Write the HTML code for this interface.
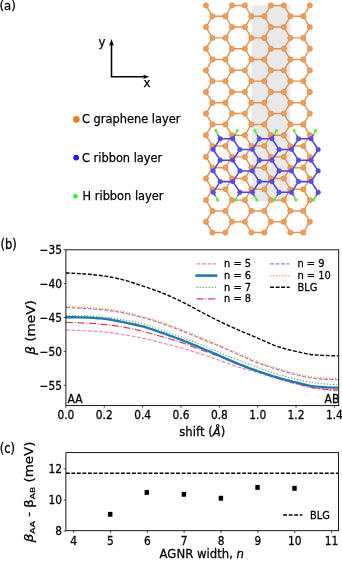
<!DOCTYPE html>
<html><head><meta charset="utf-8"><title>Figure</title>
<style>
html,body{margin:0;padding:0;background:#fff;}
body{width:342px;height:561px;overflow:hidden;}
svg{display:block;font-family:"DejaVu Sans", "Liberation Sans", sans-serif;fill:#000;}
svg text{fill:#000;stroke:#000;stroke-width:0.25px;}
</style></head><body>
<svg width="342" height="561" viewBox="0 0 342 561">
<rect x="0" y="0" width="342" height="561" fill="#ffffff"/>
<rect x="251.6" y="5.6" width="38.75" height="195.3" fill="#e9e9e9"/>
<g stroke="#E3954F" stroke-width="1.45" stroke-linecap="round">
<line x1="205.96" y1="5.44" x2="212.45" y2="16.25"/>
<line x1="231.92" y1="5.44" x2="244.90" y2="5.44"/>
<line x1="231.92" y1="5.44" x2="225.43" y2="16.25"/>
<line x1="244.90" y1="5.44" x2="251.39" y2="16.25"/>
<line x1="270.86" y1="5.44" x2="283.84" y2="5.44"/>
<line x1="270.86" y1="5.44" x2="264.37" y2="16.25"/>
<line x1="283.84" y1="5.44" x2="290.33" y2="16.25"/>
<line x1="309.80" y1="5.44" x2="303.31" y2="16.25"/>
<line x1="212.45" y1="16.25" x2="225.43" y2="16.25"/>
<line x1="212.45" y1="16.25" x2="205.96" y2="27.07"/>
<line x1="225.43" y1="16.25" x2="231.92" y2="27.07"/>
<line x1="251.39" y1="16.25" x2="264.37" y2="16.25"/>
<line x1="251.39" y1="16.25" x2="244.90" y2="27.07"/>
<line x1="264.37" y1="16.25" x2="270.86" y2="27.07"/>
<line x1="290.33" y1="16.25" x2="303.31" y2="16.25"/>
<line x1="290.33" y1="16.25" x2="283.84" y2="27.07"/>
<line x1="303.31" y1="16.25" x2="309.80" y2="27.07"/>
<line x1="205.96" y1="27.07" x2="212.45" y2="37.88"/>
<line x1="231.92" y1="27.07" x2="244.90" y2="27.07"/>
<line x1="231.92" y1="27.07" x2="225.43" y2="37.88"/>
<line x1="244.90" y1="27.07" x2="251.39" y2="37.88"/>
<line x1="270.86" y1="27.07" x2="283.84" y2="27.07"/>
<line x1="270.86" y1="27.07" x2="264.37" y2="37.88"/>
<line x1="283.84" y1="27.07" x2="290.33" y2="37.88"/>
<line x1="309.80" y1="27.07" x2="303.31" y2="37.88"/>
<line x1="212.45" y1="37.88" x2="225.43" y2="37.88"/>
<line x1="212.45" y1="37.88" x2="205.96" y2="48.70"/>
<line x1="225.43" y1="37.88" x2="231.92" y2="48.70"/>
<line x1="251.39" y1="37.88" x2="264.37" y2="37.88"/>
<line x1="251.39" y1="37.88" x2="244.90" y2="48.70"/>
<line x1="264.37" y1="37.88" x2="270.86" y2="48.70"/>
<line x1="290.33" y1="37.88" x2="303.31" y2="37.88"/>
<line x1="290.33" y1="37.88" x2="283.84" y2="48.70"/>
<line x1="303.31" y1="37.88" x2="309.80" y2="48.70"/>
<line x1="205.96" y1="48.70" x2="212.45" y2="59.51"/>
<line x1="231.92" y1="48.70" x2="244.90" y2="48.70"/>
<line x1="231.92" y1="48.70" x2="225.43" y2="59.51"/>
<line x1="244.90" y1="48.70" x2="251.39" y2="59.51"/>
<line x1="270.86" y1="48.70" x2="283.84" y2="48.70"/>
<line x1="270.86" y1="48.70" x2="264.37" y2="59.51"/>
<line x1="283.84" y1="48.70" x2="290.33" y2="59.51"/>
<line x1="309.80" y1="48.70" x2="303.31" y2="59.51"/>
<line x1="212.45" y1="59.51" x2="225.43" y2="59.51"/>
<line x1="212.45" y1="59.51" x2="205.96" y2="70.33"/>
<line x1="225.43" y1="59.51" x2="231.92" y2="70.33"/>
<line x1="251.39" y1="59.51" x2="264.37" y2="59.51"/>
<line x1="251.39" y1="59.51" x2="244.90" y2="70.33"/>
<line x1="264.37" y1="59.51" x2="270.86" y2="70.33"/>
<line x1="290.33" y1="59.51" x2="303.31" y2="59.51"/>
<line x1="290.33" y1="59.51" x2="283.84" y2="70.33"/>
<line x1="303.31" y1="59.51" x2="309.80" y2="70.33"/>
<line x1="205.96" y1="70.33" x2="212.45" y2="81.14"/>
<line x1="231.92" y1="70.33" x2="244.90" y2="70.33"/>
<line x1="231.92" y1="70.33" x2="225.43" y2="81.14"/>
<line x1="244.90" y1="70.33" x2="251.39" y2="81.14"/>
<line x1="270.86" y1="70.33" x2="283.84" y2="70.33"/>
<line x1="270.86" y1="70.33" x2="264.37" y2="81.14"/>
<line x1="283.84" y1="70.33" x2="290.33" y2="81.14"/>
<line x1="309.80" y1="70.33" x2="303.31" y2="81.14"/>
<line x1="212.45" y1="81.14" x2="225.43" y2="81.14"/>
<line x1="212.45" y1="81.14" x2="205.96" y2="91.96"/>
<line x1="225.43" y1="81.14" x2="231.92" y2="91.96"/>
<line x1="251.39" y1="81.14" x2="264.37" y2="81.14"/>
<line x1="251.39" y1="81.14" x2="244.90" y2="91.96"/>
<line x1="264.37" y1="81.14" x2="270.86" y2="91.96"/>
<line x1="290.33" y1="81.14" x2="303.31" y2="81.14"/>
<line x1="290.33" y1="81.14" x2="283.84" y2="91.96"/>
<line x1="303.31" y1="81.14" x2="309.80" y2="91.96"/>
<line x1="205.96" y1="91.96" x2="212.45" y2="102.77"/>
<line x1="231.92" y1="91.96" x2="244.90" y2="91.96"/>
<line x1="231.92" y1="91.96" x2="225.43" y2="102.77"/>
<line x1="244.90" y1="91.96" x2="251.39" y2="102.77"/>
<line x1="270.86" y1="91.96" x2="283.84" y2="91.96"/>
<line x1="270.86" y1="91.96" x2="264.37" y2="102.77"/>
<line x1="283.84" y1="91.96" x2="290.33" y2="102.77"/>
<line x1="309.80" y1="91.96" x2="303.31" y2="102.77"/>
<line x1="212.45" y1="102.77" x2="225.43" y2="102.77"/>
<line x1="212.45" y1="102.77" x2="205.96" y2="113.59"/>
<line x1="225.43" y1="102.77" x2="231.92" y2="113.59"/>
<line x1="251.39" y1="102.77" x2="264.37" y2="102.77"/>
<line x1="251.39" y1="102.77" x2="244.90" y2="113.59"/>
<line x1="264.37" y1="102.77" x2="270.86" y2="113.59"/>
<line x1="290.33" y1="102.77" x2="303.31" y2="102.77"/>
<line x1="290.33" y1="102.77" x2="283.84" y2="113.59"/>
<line x1="303.31" y1="102.77" x2="309.80" y2="113.59"/>
<line x1="205.96" y1="113.59" x2="212.45" y2="124.40"/>
<line x1="231.92" y1="113.59" x2="244.90" y2="113.59"/>
<line x1="231.92" y1="113.59" x2="225.43" y2="124.40"/>
<line x1="244.90" y1="113.59" x2="251.39" y2="124.40"/>
<line x1="270.86" y1="113.59" x2="283.84" y2="113.59"/>
<line x1="270.86" y1="113.59" x2="264.37" y2="124.40"/>
<line x1="283.84" y1="113.59" x2="290.33" y2="124.40"/>
<line x1="309.80" y1="113.59" x2="303.31" y2="124.40"/>
<line x1="212.45" y1="124.40" x2="225.43" y2="124.40"/>
<line x1="212.45" y1="124.40" x2="205.96" y2="135.22"/>
<line x1="225.43" y1="124.40" x2="231.92" y2="135.22"/>
<line x1="251.39" y1="124.40" x2="264.37" y2="124.40"/>
<line x1="251.39" y1="124.40" x2="244.90" y2="135.22"/>
<line x1="264.37" y1="124.40" x2="270.86" y2="135.22"/>
<line x1="290.33" y1="124.40" x2="303.31" y2="124.40"/>
<line x1="290.33" y1="124.40" x2="283.84" y2="135.22"/>
<line x1="303.31" y1="124.40" x2="309.80" y2="135.22"/>
<line x1="205.96" y1="135.22" x2="212.45" y2="146.03"/>
<line x1="231.92" y1="135.22" x2="244.90" y2="135.22"/>
<line x1="231.92" y1="135.22" x2="225.43" y2="146.03"/>
<line x1="244.90" y1="135.22" x2="251.39" y2="146.03"/>
<line x1="270.86" y1="135.22" x2="283.84" y2="135.22"/>
<line x1="270.86" y1="135.22" x2="264.37" y2="146.03"/>
<line x1="283.84" y1="135.22" x2="290.33" y2="146.03"/>
<line x1="309.80" y1="135.22" x2="303.31" y2="146.03"/>
<line x1="212.45" y1="146.03" x2="225.43" y2="146.03"/>
<line x1="212.45" y1="146.03" x2="205.96" y2="156.85"/>
<line x1="225.43" y1="146.03" x2="231.92" y2="156.85"/>
<line x1="251.39" y1="146.03" x2="264.37" y2="146.03"/>
<line x1="251.39" y1="146.03" x2="244.90" y2="156.85"/>
<line x1="264.37" y1="146.03" x2="270.86" y2="156.85"/>
<line x1="290.33" y1="146.03" x2="303.31" y2="146.03"/>
<line x1="290.33" y1="146.03" x2="283.84" y2="156.85"/>
<line x1="303.31" y1="146.03" x2="309.80" y2="156.85"/>
<line x1="205.96" y1="156.85" x2="212.45" y2="167.66"/>
<line x1="231.92" y1="156.85" x2="244.90" y2="156.85"/>
<line x1="231.92" y1="156.85" x2="225.43" y2="167.66"/>
<line x1="244.90" y1="156.85" x2="251.39" y2="167.66"/>
<line x1="270.86" y1="156.85" x2="283.84" y2="156.85"/>
<line x1="270.86" y1="156.85" x2="264.37" y2="167.66"/>
<line x1="283.84" y1="156.85" x2="290.33" y2="167.66"/>
<line x1="309.80" y1="156.85" x2="303.31" y2="167.66"/>
<line x1="212.45" y1="167.66" x2="225.43" y2="167.66"/>
<line x1="212.45" y1="167.66" x2="205.96" y2="178.48"/>
<line x1="225.43" y1="167.66" x2="231.92" y2="178.48"/>
<line x1="251.39" y1="167.66" x2="264.37" y2="167.66"/>
<line x1="251.39" y1="167.66" x2="244.90" y2="178.48"/>
<line x1="264.37" y1="167.66" x2="270.86" y2="178.48"/>
<line x1="290.33" y1="167.66" x2="303.31" y2="167.66"/>
<line x1="290.33" y1="167.66" x2="283.84" y2="178.48"/>
<line x1="303.31" y1="167.66" x2="309.80" y2="178.48"/>
<line x1="205.96" y1="178.48" x2="212.45" y2="189.29"/>
<line x1="231.92" y1="178.48" x2="244.90" y2="178.48"/>
<line x1="231.92" y1="178.48" x2="225.43" y2="189.29"/>
<line x1="244.90" y1="178.48" x2="251.39" y2="189.29"/>
<line x1="270.86" y1="178.48" x2="283.84" y2="178.48"/>
<line x1="270.86" y1="178.48" x2="264.37" y2="189.29"/>
<line x1="283.84" y1="178.48" x2="290.33" y2="189.29"/>
<line x1="309.80" y1="178.48" x2="303.31" y2="189.29"/>
<line x1="212.45" y1="189.29" x2="225.43" y2="189.29"/>
<line x1="212.45" y1="189.29" x2="205.96" y2="200.11"/>
<line x1="225.43" y1="189.29" x2="231.92" y2="200.11"/>
<line x1="251.39" y1="189.29" x2="264.37" y2="189.29"/>
<line x1="251.39" y1="189.29" x2="244.90" y2="200.11"/>
<line x1="264.37" y1="189.29" x2="270.86" y2="200.11"/>
<line x1="290.33" y1="189.29" x2="303.31" y2="189.29"/>
<line x1="290.33" y1="189.29" x2="283.84" y2="200.11"/>
<line x1="303.31" y1="189.29" x2="309.80" y2="200.11"/>
<line x1="205.96" y1="200.11" x2="212.45" y2="210.92"/>
<line x1="231.92" y1="200.11" x2="244.90" y2="200.11"/>
<line x1="231.92" y1="200.11" x2="225.43" y2="210.92"/>
<line x1="244.90" y1="200.11" x2="251.39" y2="210.92"/>
<line x1="270.86" y1="200.11" x2="283.84" y2="200.11"/>
<line x1="270.86" y1="200.11" x2="264.37" y2="210.92"/>
<line x1="283.84" y1="200.11" x2="290.33" y2="210.92"/>
<line x1="309.80" y1="200.11" x2="303.31" y2="210.92"/>
<line x1="212.45" y1="210.92" x2="225.43" y2="210.92"/>
<line x1="212.45" y1="210.92" x2="205.96" y2="221.74"/>
<line x1="225.43" y1="210.92" x2="231.92" y2="221.74"/>
<line x1="251.39" y1="210.92" x2="264.37" y2="210.92"/>
<line x1="251.39" y1="210.92" x2="244.90" y2="221.74"/>
<line x1="264.37" y1="210.92" x2="270.86" y2="221.74"/>
<line x1="290.33" y1="210.92" x2="303.31" y2="210.92"/>
<line x1="290.33" y1="210.92" x2="283.84" y2="221.74"/>
<line x1="303.31" y1="210.92" x2="309.80" y2="221.74"/>
<line x1="205.96" y1="221.74" x2="212.45" y2="232.55"/>
<line x1="231.92" y1="221.74" x2="244.90" y2="221.74"/>
<line x1="231.92" y1="221.74" x2="225.43" y2="232.55"/>
<line x1="244.90" y1="221.74" x2="251.39" y2="232.55"/>
<line x1="270.86" y1="221.74" x2="283.84" y2="221.74"/>
<line x1="270.86" y1="221.74" x2="264.37" y2="232.55"/>
<line x1="283.84" y1="221.74" x2="290.33" y2="232.55"/>
<line x1="309.80" y1="221.74" x2="303.31" y2="232.55"/>
<line x1="212.45" y1="232.55" x2="225.43" y2="232.55"/>
<line x1="251.39" y1="232.55" x2="264.37" y2="232.55"/>
<line x1="290.33" y1="232.55" x2="303.31" y2="232.55"/>
</g>
<g fill="#EE9F59" stroke="#CF8245" stroke-width="0.55">
<circle cx="205.96" cy="5.44" r="2.65"/>
<circle cx="231.92" cy="5.44" r="2.65"/>
<circle cx="244.90" cy="5.44" r="2.65"/>
<circle cx="270.86" cy="5.44" r="2.65"/>
<circle cx="283.84" cy="5.44" r="2.65"/>
<circle cx="309.80" cy="5.44" r="2.65"/>
<circle cx="212.45" cy="16.25" r="2.65"/>
<circle cx="225.43" cy="16.25" r="2.65"/>
<circle cx="251.39" cy="16.25" r="2.65"/>
<circle cx="264.37" cy="16.25" r="2.65"/>
<circle cx="290.33" cy="16.25" r="2.65"/>
<circle cx="303.31" cy="16.25" r="2.65"/>
<circle cx="205.96" cy="27.07" r="2.65"/>
<circle cx="231.92" cy="27.07" r="2.65"/>
<circle cx="244.90" cy="27.07" r="2.65"/>
<circle cx="270.86" cy="27.07" r="2.65"/>
<circle cx="283.84" cy="27.07" r="2.65"/>
<circle cx="309.80" cy="27.07" r="2.65"/>
<circle cx="212.45" cy="37.88" r="2.65"/>
<circle cx="225.43" cy="37.88" r="2.65"/>
<circle cx="251.39" cy="37.88" r="2.65"/>
<circle cx="264.37" cy="37.88" r="2.65"/>
<circle cx="290.33" cy="37.88" r="2.65"/>
<circle cx="303.31" cy="37.88" r="2.65"/>
<circle cx="205.96" cy="48.70" r="2.65"/>
<circle cx="231.92" cy="48.70" r="2.65"/>
<circle cx="244.90" cy="48.70" r="2.65"/>
<circle cx="270.86" cy="48.70" r="2.65"/>
<circle cx="283.84" cy="48.70" r="2.65"/>
<circle cx="309.80" cy="48.70" r="2.65"/>
<circle cx="212.45" cy="59.51" r="2.65"/>
<circle cx="225.43" cy="59.51" r="2.65"/>
<circle cx="251.39" cy="59.51" r="2.65"/>
<circle cx="264.37" cy="59.51" r="2.65"/>
<circle cx="290.33" cy="59.51" r="2.65"/>
<circle cx="303.31" cy="59.51" r="2.65"/>
<circle cx="205.96" cy="70.33" r="2.65"/>
<circle cx="231.92" cy="70.33" r="2.65"/>
<circle cx="244.90" cy="70.33" r="2.65"/>
<circle cx="270.86" cy="70.33" r="2.65"/>
<circle cx="283.84" cy="70.33" r="2.65"/>
<circle cx="309.80" cy="70.33" r="2.65"/>
<circle cx="212.45" cy="81.14" r="2.65"/>
<circle cx="225.43" cy="81.14" r="2.65"/>
<circle cx="251.39" cy="81.14" r="2.65"/>
<circle cx="264.37" cy="81.14" r="2.65"/>
<circle cx="290.33" cy="81.14" r="2.65"/>
<circle cx="303.31" cy="81.14" r="2.65"/>
<circle cx="205.96" cy="91.96" r="2.65"/>
<circle cx="231.92" cy="91.96" r="2.65"/>
<circle cx="244.90" cy="91.96" r="2.65"/>
<circle cx="270.86" cy="91.96" r="2.65"/>
<circle cx="283.84" cy="91.96" r="2.65"/>
<circle cx="309.80" cy="91.96" r="2.65"/>
<circle cx="212.45" cy="102.77" r="2.65"/>
<circle cx="225.43" cy="102.77" r="2.65"/>
<circle cx="251.39" cy="102.77" r="2.65"/>
<circle cx="264.37" cy="102.77" r="2.65"/>
<circle cx="290.33" cy="102.77" r="2.65"/>
<circle cx="303.31" cy="102.77" r="2.65"/>
<circle cx="205.96" cy="113.59" r="2.65"/>
<circle cx="231.92" cy="113.59" r="2.65"/>
<circle cx="244.90" cy="113.59" r="2.65"/>
<circle cx="270.86" cy="113.59" r="2.65"/>
<circle cx="283.84" cy="113.59" r="2.65"/>
<circle cx="309.80" cy="113.59" r="2.65"/>
<circle cx="212.45" cy="124.40" r="2.65"/>
<circle cx="225.43" cy="124.40" r="2.65"/>
<circle cx="251.39" cy="124.40" r="2.65"/>
<circle cx="264.37" cy="124.40" r="2.65"/>
<circle cx="290.33" cy="124.40" r="2.65"/>
<circle cx="303.31" cy="124.40" r="2.65"/>
<circle cx="205.96" cy="135.22" r="2.65"/>
<circle cx="231.92" cy="135.22" r="2.65"/>
<circle cx="244.90" cy="135.22" r="2.65"/>
<circle cx="270.86" cy="135.22" r="2.65"/>
<circle cx="283.84" cy="135.22" r="2.65"/>
<circle cx="309.80" cy="135.22" r="2.65"/>
<circle cx="212.45" cy="146.03" r="2.65"/>
<circle cx="225.43" cy="146.03" r="2.65"/>
<circle cx="251.39" cy="146.03" r="2.65"/>
<circle cx="264.37" cy="146.03" r="2.65"/>
<circle cx="290.33" cy="146.03" r="2.65"/>
<circle cx="303.31" cy="146.03" r="2.65"/>
<circle cx="205.96" cy="156.85" r="2.65"/>
<circle cx="231.92" cy="156.85" r="2.65"/>
<circle cx="244.90" cy="156.85" r="2.65"/>
<circle cx="270.86" cy="156.85" r="2.65"/>
<circle cx="283.84" cy="156.85" r="2.65"/>
<circle cx="309.80" cy="156.85" r="2.65"/>
<circle cx="212.45" cy="167.66" r="2.65"/>
<circle cx="225.43" cy="167.66" r="2.65"/>
<circle cx="251.39" cy="167.66" r="2.65"/>
<circle cx="264.37" cy="167.66" r="2.65"/>
<circle cx="290.33" cy="167.66" r="2.65"/>
<circle cx="303.31" cy="167.66" r="2.65"/>
<circle cx="205.96" cy="178.48" r="2.65"/>
<circle cx="231.92" cy="178.48" r="2.65"/>
<circle cx="244.90" cy="178.48" r="2.65"/>
<circle cx="270.86" cy="178.48" r="2.65"/>
<circle cx="283.84" cy="178.48" r="2.65"/>
<circle cx="309.80" cy="178.48" r="2.65"/>
<circle cx="212.45" cy="189.29" r="2.65"/>
<circle cx="225.43" cy="189.29" r="2.65"/>
<circle cx="251.39" cy="189.29" r="2.65"/>
<circle cx="264.37" cy="189.29" r="2.65"/>
<circle cx="290.33" cy="189.29" r="2.65"/>
<circle cx="303.31" cy="189.29" r="2.65"/>
<circle cx="205.96" cy="200.11" r="2.65"/>
<circle cx="231.92" cy="200.11" r="2.65"/>
<circle cx="244.90" cy="200.11" r="2.65"/>
<circle cx="270.86" cy="200.11" r="2.65"/>
<circle cx="283.84" cy="200.11" r="2.65"/>
<circle cx="309.80" cy="200.11" r="2.65"/>
<circle cx="212.45" cy="210.92" r="2.65"/>
<circle cx="225.43" cy="210.92" r="2.65"/>
<circle cx="251.39" cy="210.92" r="2.65"/>
<circle cx="264.37" cy="210.92" r="2.65"/>
<circle cx="290.33" cy="210.92" r="2.65"/>
<circle cx="303.31" cy="210.92" r="2.65"/>
<circle cx="205.96" cy="221.74" r="2.65"/>
<circle cx="231.92" cy="221.74" r="2.65"/>
<circle cx="244.90" cy="221.74" r="2.65"/>
<circle cx="270.86" cy="221.74" r="2.65"/>
<circle cx="283.84" cy="221.74" r="2.65"/>
<circle cx="309.80" cy="221.74" r="2.65"/>
<circle cx="212.45" cy="232.55" r="2.65"/>
<circle cx="225.43" cy="232.55" r="2.65"/>
<circle cx="251.39" cy="232.55" r="2.65"/>
<circle cx="264.37" cy="232.55" r="2.65"/>
<circle cx="290.33" cy="232.55" r="2.65"/>
<circle cx="303.31" cy="232.55" r="2.65"/>
</g>
<g stroke="#5146D9" stroke-width="1.55" stroke-linecap="round">
<line x1="220.20" y1="138.80" x2="232.80" y2="138.80"/>
<line x1="220.20" y1="138.80" x2="213.20" y2="149.50"/>
<line x1="232.80" y1="138.80" x2="239.90" y2="149.50"/>
<line x1="259.35" y1="138.80" x2="271.95" y2="138.80"/>
<line x1="259.35" y1="138.80" x2="252.35" y2="149.50"/>
<line x1="271.95" y1="138.80" x2="279.05" y2="149.50"/>
<line x1="298.50" y1="138.80" x2="311.10" y2="138.80"/>
<line x1="298.50" y1="138.80" x2="291.50" y2="149.50"/>
<line x1="311.10" y1="138.80" x2="318.20" y2="149.50"/>
<line x1="213.20" y1="149.50" x2="220.20" y2="160.20"/>
<line x1="239.90" y1="149.50" x2="252.35" y2="149.50"/>
<line x1="239.90" y1="149.50" x2="232.80" y2="160.20"/>
<line x1="252.35" y1="149.50" x2="259.35" y2="160.20"/>
<line x1="279.05" y1="149.50" x2="291.50" y2="149.50"/>
<line x1="279.05" y1="149.50" x2="271.95" y2="160.20"/>
<line x1="291.50" y1="149.50" x2="298.50" y2="160.20"/>
<line x1="318.20" y1="149.50" x2="311.10" y2="160.20"/>
<line x1="220.20" y1="160.20" x2="232.80" y2="160.20"/>
<line x1="220.20" y1="160.20" x2="213.20" y2="170.90"/>
<line x1="232.80" y1="160.20" x2="239.90" y2="170.90"/>
<line x1="259.35" y1="160.20" x2="271.95" y2="160.20"/>
<line x1="259.35" y1="160.20" x2="252.35" y2="170.90"/>
<line x1="271.95" y1="160.20" x2="279.05" y2="170.90"/>
<line x1="298.50" y1="160.20" x2="311.10" y2="160.20"/>
<line x1="298.50" y1="160.20" x2="291.50" y2="170.90"/>
<line x1="311.10" y1="160.20" x2="318.20" y2="170.90"/>
<line x1="213.20" y1="170.90" x2="220.20" y2="181.60"/>
<line x1="239.90" y1="170.90" x2="252.35" y2="170.90"/>
<line x1="239.90" y1="170.90" x2="232.80" y2="181.60"/>
<line x1="252.35" y1="170.90" x2="259.35" y2="181.60"/>
<line x1="279.05" y1="170.90" x2="291.50" y2="170.90"/>
<line x1="279.05" y1="170.90" x2="271.95" y2="181.60"/>
<line x1="291.50" y1="170.90" x2="298.50" y2="181.60"/>
<line x1="318.20" y1="170.90" x2="311.10" y2="181.60"/>
<line x1="220.20" y1="181.60" x2="232.80" y2="181.60"/>
<line x1="220.20" y1="181.60" x2="213.20" y2="192.30"/>
<line x1="232.80" y1="181.60" x2="239.90" y2="192.30"/>
<line x1="259.35" y1="181.60" x2="271.95" y2="181.60"/>
<line x1="259.35" y1="181.60" x2="252.35" y2="192.30"/>
<line x1="271.95" y1="181.60" x2="279.05" y2="192.30"/>
<line x1="298.50" y1="181.60" x2="311.10" y2="181.60"/>
<line x1="298.50" y1="181.60" x2="291.50" y2="192.30"/>
<line x1="311.10" y1="181.60" x2="318.20" y2="192.30"/>
<line x1="239.90" y1="192.30" x2="252.35" y2="192.30"/>
<line x1="279.05" y1="192.30" x2="291.50" y2="192.30"/>
</g>
<line x1="220.20" y1="138.80" x2="217.95" y2="134.65" stroke="#5146D9" stroke-width="1.55"/>
<line x1="217.95" y1="134.65" x2="215.70" y2="130.50" stroke="#5CE645" stroke-width="1.55"/>
<line x1="232.80" y1="138.80" x2="235.05" y2="134.65" stroke="#5146D9" stroke-width="1.55"/>
<line x1="235.05" y1="134.65" x2="237.30" y2="130.50" stroke="#5CE645" stroke-width="1.55"/>
<line x1="213.20" y1="192.30" x2="215.45" y2="196.15" stroke="#5146D9" stroke-width="1.55"/>
<line x1="215.45" y1="196.15" x2="217.70" y2="200.00" stroke="#5CE645" stroke-width="1.55"/>
<line x1="239.90" y1="192.30" x2="237.55" y2="196.15" stroke="#5146D9" stroke-width="1.55"/>
<line x1="237.55" y1="196.15" x2="235.20" y2="200.00" stroke="#5CE645" stroke-width="1.55"/>
<line x1="259.35" y1="138.80" x2="257.10" y2="134.65" stroke="#5146D9" stroke-width="1.55"/>
<line x1="257.10" y1="134.65" x2="254.85" y2="130.50" stroke="#5CE645" stroke-width="1.55"/>
<line x1="271.95" y1="138.80" x2="274.20" y2="134.65" stroke="#5146D9" stroke-width="1.55"/>
<line x1="274.20" y1="134.65" x2="276.45" y2="130.50" stroke="#5CE645" stroke-width="1.55"/>
<line x1="252.35" y1="192.30" x2="254.60" y2="196.15" stroke="#5146D9" stroke-width="1.55"/>
<line x1="254.60" y1="196.15" x2="256.85" y2="200.00" stroke="#5CE645" stroke-width="1.55"/>
<line x1="279.05" y1="192.30" x2="276.70" y2="196.15" stroke="#5146D9" stroke-width="1.55"/>
<line x1="276.70" y1="196.15" x2="274.35" y2="200.00" stroke="#5CE645" stroke-width="1.55"/>
<line x1="298.50" y1="138.80" x2="296.25" y2="134.65" stroke="#5146D9" stroke-width="1.55"/>
<line x1="296.25" y1="134.65" x2="294.00" y2="130.50" stroke="#5CE645" stroke-width="1.55"/>
<line x1="311.10" y1="138.80" x2="313.35" y2="134.65" stroke="#5146D9" stroke-width="1.55"/>
<line x1="313.35" y1="134.65" x2="315.60" y2="130.50" stroke="#5CE645" stroke-width="1.55"/>
<line x1="291.50" y1="192.30" x2="293.75" y2="196.15" stroke="#5146D9" stroke-width="1.55"/>
<line x1="293.75" y1="196.15" x2="296.00" y2="200.00" stroke="#5CE645" stroke-width="1.55"/>
<line x1="318.20" y1="192.30" x2="315.85" y2="196.15" stroke="#5146D9" stroke-width="1.55"/>
<line x1="315.85" y1="196.15" x2="313.50" y2="200.00" stroke="#5CE645" stroke-width="1.55"/>
<g fill="#584DE6" stroke="#4A40C8" stroke-width="0.4">
<circle cx="220.20" cy="138.80" r="2.35"/>
<circle cx="232.80" cy="138.80" r="2.35"/>
<circle cx="259.35" cy="138.80" r="2.35"/>
<circle cx="271.95" cy="138.80" r="2.35"/>
<circle cx="298.50" cy="138.80" r="2.35"/>
<circle cx="311.10" cy="138.80" r="2.35"/>
<circle cx="213.20" cy="149.50" r="2.35"/>
<circle cx="239.90" cy="149.50" r="2.35"/>
<circle cx="252.35" cy="149.50" r="2.35"/>
<circle cx="279.05" cy="149.50" r="2.35"/>
<circle cx="291.50" cy="149.50" r="2.35"/>
<circle cx="318.20" cy="149.50" r="2.35"/>
<circle cx="220.20" cy="160.20" r="2.35"/>
<circle cx="232.80" cy="160.20" r="2.35"/>
<circle cx="259.35" cy="160.20" r="2.35"/>
<circle cx="271.95" cy="160.20" r="2.35"/>
<circle cx="298.50" cy="160.20" r="2.35"/>
<circle cx="311.10" cy="160.20" r="2.35"/>
<circle cx="213.20" cy="170.90" r="2.35"/>
<circle cx="239.90" cy="170.90" r="2.35"/>
<circle cx="252.35" cy="170.90" r="2.35"/>
<circle cx="279.05" cy="170.90" r="2.35"/>
<circle cx="291.50" cy="170.90" r="2.35"/>
<circle cx="318.20" cy="170.90" r="2.35"/>
<circle cx="220.20" cy="181.60" r="2.35"/>
<circle cx="232.80" cy="181.60" r="2.35"/>
<circle cx="259.35" cy="181.60" r="2.35"/>
<circle cx="271.95" cy="181.60" r="2.35"/>
<circle cx="298.50" cy="181.60" r="2.35"/>
<circle cx="311.10" cy="181.60" r="2.35"/>
<circle cx="213.20" cy="192.30" r="2.35"/>
<circle cx="239.90" cy="192.30" r="2.35"/>
<circle cx="252.35" cy="192.30" r="2.35"/>
<circle cx="279.05" cy="192.30" r="2.35"/>
<circle cx="291.50" cy="192.30" r="2.35"/>
<circle cx="318.20" cy="192.30" r="2.35"/>
</g>
<g fill="#5CE645">
<circle cx="215.70" cy="130.50" r="1.55"/>
<circle cx="237.30" cy="130.50" r="1.55"/>
<circle cx="217.70" cy="200.00" r="1.55"/>
<circle cx="235.20" cy="200.00" r="1.55"/>
<circle cx="254.85" cy="130.50" r="1.55"/>
<circle cx="276.45" cy="130.50" r="1.55"/>
<circle cx="256.85" cy="200.00" r="1.55"/>
<circle cx="274.35" cy="200.00" r="1.55"/>
<circle cx="294.00" cy="130.50" r="1.55"/>
<circle cx="315.60" cy="130.50" r="1.55"/>
<circle cx="296.00" cy="200.00" r="1.55"/>
<circle cx="313.50" cy="200.00" r="1.55"/>
</g>
<text transform="translate(-0.50 10.45) scale(1 1.03)" font-size="11.7">(a)</text>
<path d="M111.5 43 V76.8 H145.5" fill="none" stroke="#000" stroke-width="1.55"/>
<path d="M111.5 39 L113.9 45.9 L111.5 44.6 L109.1 45.9 Z" fill="#000"/>
<path d="M149.2 76.8 L143.2 78.9 L144.4 76.8 L143.2 74.7 Z" fill="#000"/>
<text x="98.6" y="45.6" font-size="11.8">y</text>
<text x="143.4" y="86.5" font-size="12">x</text>
<circle cx="76.4" cy="119.4" r="3.3" fill="#E2821F"/>
<text x="82" y="122.9" font-size="11.4">C graphene layer</text>
<circle cx="76.2" cy="157.6" r="2.9" fill="#2418EB"/>
<text x="82" y="161.5" font-size="11.4">C ribbon layer</text>
<circle cx="75.5" cy="196.3" r="2.3" fill="#2CF01A"/>
<text x="82.6" y="200.2" font-size="11.4">H ribbon layer</text>
<text transform="translate(0.50 249.10) scale(1 1.2)" font-size="11.5">(b)</text>
<clipPath id="cb"><rect x="65.9" y="249.8" width="272.79999999999995" height="155.8"/></clipPath>
<g clip-path="url(#cb)">
<polyline points="65.90,330.10 68.19,330.16 70.48,330.22 72.77,330.30 75.05,330.38 77.34,330.47 79.63,330.56 81.92,330.66 84.21,330.76 86.50,330.87 88.79,330.98 91.08,331.10 93.36,331.23 95.65,331.36 97.94,331.51 100.23,331.68 102.52,331.85 104.81,332.05 107.10,332.28 109.39,332.55 111.67,332.85 113.96,333.17 116.25,333.52 118.54,333.88 120.83,334.24 123.12,334.60 125.41,334.96 127.70,335.33 129.98,335.72 132.27,336.11 134.56,336.52 136.85,336.95 139.14,337.39 141.43,337.85 143.72,338.33 146.00,338.85 148.29,339.40 150.58,339.98 152.87,340.57 155.16,341.17 157.45,341.77 159.74,342.37 162.03,342.96 164.31,343.53 166.60,344.10 168.89,344.66 171.18,345.23 173.47,345.80 175.76,346.39 178.05,347.00 180.34,347.62 182.62,348.27 184.91,348.95 187.20,349.64 189.49,350.36 191.78,351.09 194.07,351.82 196.36,352.57 198.64,353.31 200.93,354.05 203.22,354.79 205.51,355.54 207.80,356.29 210.09,357.05 212.38,357.82 214.67,358.59 216.95,359.38 219.24,360.17 221.53,360.98 223.82,361.82 226.11,362.69 228.40,363.56 230.69,364.42 232.98,365.27 235.26,366.08 237.55,366.84 239.84,367.55 242.13,368.22 244.42,368.85 246.71,369.45 249.00,370.05 251.29,370.64 253.57,371.25 255.86,371.87 258.15,372.53 260.44,373.23 262.73,373.95 265.02,374.69 267.31,375.44 269.59,376.19 271.88,376.93 274.17,377.66 276.46,378.37 278.75,379.06 281.04,379.76 283.33,380.44 285.62,381.12 287.90,381.79 290.19,382.44 292.48,383.07 294.77,383.67 297.06,384.25 299.35,384.82 301.64,385.39 303.93,385.94 306.21,386.47 308.50,386.98 310.79,387.45 313.08,387.87 315.37,388.25 317.66,388.59 319.95,388.93 322.24,389.25 324.52,389.56 326.81,389.84 329.10,390.11 331.39,390.35 333.68,390.56 335.97,390.75 338.26,390.90" fill="none" stroke="#e687c9" stroke-width="1.2" stroke-dasharray="3.85 1.66"/>
<polyline points="65.90,315.50 68.19,315.51 70.48,315.53 72.77,315.56 75.05,315.60 77.34,315.64 79.63,315.70 81.92,315.76 84.21,315.82 86.50,315.90 88.79,316.01 91.08,316.14 93.36,316.31 95.65,316.49 97.94,316.70 100.23,316.91 102.52,317.13 104.81,317.35 107.10,317.60 109.39,317.86 111.67,318.15 113.96,318.46 116.25,318.79 118.54,319.13 120.83,319.48 123.12,319.85 125.41,320.22 127.70,320.61 129.98,321.01 132.27,321.44 134.56,321.89 136.85,322.36 139.14,322.87 141.43,323.41 143.72,323.99 146.00,324.65 148.29,325.38 150.58,326.17 152.87,327.00 155.16,327.85 157.45,328.69 159.74,329.53 162.03,330.33 164.31,331.10 166.60,331.87 168.89,332.63 171.18,333.39 173.47,334.16 175.76,334.94 178.05,335.74 180.34,336.56 182.62,337.41 184.91,338.29 187.20,339.18 189.49,340.10 191.78,341.02 194.07,341.96 196.36,342.90 198.64,343.83 200.93,344.77 203.22,345.70 205.51,346.65 207.80,347.60 210.09,348.55 212.38,349.50 214.67,350.46 216.95,351.41 219.24,352.36 221.53,353.31 223.82,354.27 226.11,355.23 228.40,356.19 230.69,357.14 232.98,358.09 235.26,359.02 237.55,359.92 239.84,360.81 242.13,361.67 244.42,362.52 246.71,363.36 249.00,364.18 251.29,365.01 253.57,365.82 255.86,366.64 258.15,367.46 260.44,368.30 262.73,369.15 265.02,370.00 267.31,370.85 269.59,371.68 271.88,372.48 274.17,373.25 276.46,373.97 278.75,374.65 281.04,375.31 283.33,375.94 285.62,376.55 287.90,377.14 290.19,377.71 292.48,378.27 294.77,378.80 297.06,379.33 299.35,379.86 301.64,380.39 303.93,380.92 306.21,381.42 308.50,381.89 310.79,382.31 313.08,382.68 315.37,382.98 317.66,383.24 319.95,383.50 322.24,383.74 324.52,383.97 326.81,384.18 329.10,384.37 331.39,384.53 333.68,384.66 335.97,384.75 338.26,384.80" fill="none" stroke="#45ab45" stroke-width="1.2" stroke-dasharray="1.1 1.92"/>
<polyline points="65.90,322.50 68.19,322.51 70.48,322.54 72.77,322.58 75.05,322.64 77.34,322.71 79.63,322.79 81.92,322.88 84.21,322.97 86.50,323.06 88.79,323.18 91.08,323.33 93.36,323.50 95.65,323.69 97.94,323.89 100.23,324.11 102.52,324.33 104.81,324.55 107.10,324.79 109.39,325.05 111.67,325.33 113.96,325.63 116.25,325.94 118.54,326.28 120.83,326.63 123.12,327.00 125.41,327.39 127.70,327.83 129.98,328.31 132.27,328.81 134.56,329.34 136.85,329.89 139.14,330.44 141.43,331.01 143.72,331.57 146.00,332.16 148.29,332.77 150.58,333.40 152.87,334.04 155.16,334.69 157.45,335.35 159.74,336.01 162.03,336.66 164.31,337.32 166.60,337.97 168.89,338.62 171.18,339.28 173.47,339.95 175.76,340.64 178.05,341.35 180.34,342.09 182.62,342.86 184.91,343.68 187.20,344.54 189.49,345.42 191.78,346.32 194.07,347.22 196.36,348.11 198.64,348.99 200.93,349.83 203.22,350.65 205.51,351.46 207.80,352.25 210.09,353.05 212.38,353.85 214.67,354.66 216.95,355.50 219.24,356.36 221.53,357.27 223.82,358.21 226.11,359.18 228.40,360.17 230.69,361.17 232.98,362.15 235.26,363.12 237.55,364.06 239.84,364.97 242.13,365.86 244.42,366.74 246.71,367.60 249.00,368.45 251.29,369.29 253.57,370.13 255.86,370.95 258.15,371.76 260.44,372.57 262.73,373.37 265.02,374.16 267.31,374.95 269.59,375.72 271.88,376.47 274.17,377.21 276.46,377.92 278.75,378.61 281.04,379.29 283.33,379.95 285.62,380.60 287.90,381.23 290.19,381.85 292.48,382.46 294.77,383.07 297.06,383.66 299.35,384.29 301.64,384.93 303.93,385.57 306.21,386.19 308.50,386.76 310.79,387.28 313.08,387.71 315.37,388.04 317.66,388.32 319.95,388.60 322.24,388.86 324.52,389.10 326.81,389.32 329.10,389.52 331.39,389.68 333.68,389.80 335.97,389.87 338.26,389.90" fill="none" stroke="#db4142" stroke-width="1.2" stroke-dasharray="7.0 1.75 1.05 1.75"/>
<polyline points="65.90,307.50 68.19,307.61 70.48,307.72 72.77,307.84 75.05,307.97 77.34,308.09 79.63,308.22 81.92,308.36 84.21,308.50 86.50,308.64 88.79,308.77 91.08,308.91 93.36,309.05 95.65,309.20 97.94,309.37 100.23,309.54 102.52,309.74 104.81,309.95 107.10,310.21 109.39,310.51 111.67,310.85 113.96,311.22 116.25,311.61 118.54,312.02 120.83,312.45 123.12,312.89 125.41,313.34 127.70,313.83 129.98,314.35 132.27,314.90 134.56,315.48 136.85,316.06 139.14,316.67 141.43,317.28 143.72,317.90 146.00,318.53 148.29,319.18 150.58,319.85 152.87,320.54 155.16,321.25 157.45,321.97 159.74,322.72 162.03,323.48 164.31,324.26 166.60,325.08 168.89,325.93 171.18,326.79 173.47,327.67 175.76,328.56 178.05,329.46 180.34,330.35 182.62,331.24 184.91,332.14 187.20,333.05 189.49,333.96 191.78,334.89 194.07,335.81 196.36,336.75 198.64,337.68 200.93,338.62 203.22,339.56 205.51,340.50 207.80,341.45 210.09,342.40 212.38,343.36 214.67,344.32 216.95,345.29 219.24,346.26 221.53,347.24 223.82,348.23 226.11,349.23 228.40,350.23 230.69,351.24 232.98,352.24 235.26,353.24 237.55,354.23 239.84,355.22 242.13,356.22 244.42,357.23 246.71,358.24 249.00,359.24 251.29,360.22 253.57,361.17 255.86,362.09 258.15,362.97 260.44,363.82 262.73,364.64 265.02,365.44 267.31,366.22 269.59,366.98 271.88,367.73 274.17,368.46 276.46,369.17 278.75,369.87 281.04,370.57 283.33,371.26 285.62,371.94 287.90,372.59 290.19,373.22 292.48,373.82 294.77,374.40 297.06,374.93 299.35,375.48 301.64,376.02 303.93,376.55 306.21,377.05 308.50,377.51 310.79,377.91 313.08,378.24 315.37,378.48 317.66,378.68 319.95,378.87 322.24,379.05 324.52,379.22 326.81,379.37 329.10,379.50 331.39,379.60 333.68,379.68 335.97,379.73 338.26,379.75" fill="none" stroke="#a179c5" stroke-width="1.2" stroke-dasharray="3.85 1.66"/>
<polyline points="65.90,306.30 68.19,306.41 70.48,306.52 72.77,306.64 75.05,306.77 77.34,306.89 79.63,307.02 81.92,307.16 84.21,307.30 86.50,307.44 88.79,307.57 91.08,307.71 93.36,307.85 95.65,308.00 97.94,308.17 100.23,308.34 102.52,308.54 104.81,308.75 107.10,309.01 109.39,309.31 111.67,309.65 113.96,310.02 116.25,310.41 118.54,310.82 120.83,311.25 123.12,311.69 125.41,312.14 127.70,312.63 129.98,313.15 132.27,313.70 134.56,314.28 136.85,314.86 139.14,315.47 141.43,316.08 143.72,316.70 146.00,317.33 148.29,317.98 150.58,318.65 152.87,319.34 155.16,320.05 157.45,320.77 159.74,321.52 162.03,322.28 164.31,323.06 166.60,323.88 168.89,324.73 171.18,325.59 173.47,326.47 175.76,327.36 178.05,328.26 180.34,329.15 182.62,330.04 184.91,330.94 187.20,331.85 189.49,332.76 191.78,333.69 194.07,334.61 196.36,335.55 198.64,336.48 200.93,337.42 203.22,338.36 205.51,339.30 207.80,340.25 210.09,341.20 212.38,342.16 214.67,343.12 216.95,344.09 219.24,345.06 221.53,346.04 223.82,347.03 226.11,348.03 228.40,349.03 230.69,350.04 232.98,351.04 235.26,352.04 237.55,353.03 239.84,354.02 242.13,355.02 244.42,356.03 246.71,357.04 249.00,358.04 251.29,359.02 253.57,359.97 255.86,360.89 258.15,361.77 260.44,362.62 262.73,363.44 265.02,364.24 267.31,365.02 269.59,365.78 271.88,366.53 274.17,367.26 276.46,367.97 278.75,368.67 281.04,369.37 283.33,370.06 285.62,370.74 287.90,371.39 290.19,372.02 292.48,372.62 294.77,373.20 297.06,373.73 299.35,374.28 301.64,374.82 303.93,375.35 306.21,375.85 308.50,376.31 310.79,376.71 313.08,377.04 315.37,377.28 317.66,377.48 319.95,377.67 322.24,377.85 324.52,378.02 326.81,378.17 329.10,378.30 331.39,378.40 333.68,378.48 335.97,378.53 338.26,378.55" fill="none" stroke="#ff8e2b" stroke-width="1.2" stroke-dasharray="1.1 1.92"/>
<polyline points="65.90,273.00 68.19,273.07 70.48,273.16 72.77,273.26 75.05,273.37 77.34,273.50 79.63,273.64 81.92,273.79 84.21,273.94 86.50,274.10 88.79,274.28 91.08,274.48 93.36,274.70 95.65,274.94 97.94,275.20 100.23,275.47 102.52,275.77 104.81,276.08 107.10,276.43 109.39,276.82 111.67,277.25 113.96,277.71 116.25,278.20 118.54,278.72 120.83,279.26 123.12,279.82 125.41,280.41 127.70,281.06 129.98,281.76 132.27,282.49 134.56,283.25 136.85,284.03 139.14,284.82 141.43,285.60 143.72,286.37 146.00,287.14 148.29,287.91 150.58,288.70 152.87,289.50 155.16,290.31 157.45,291.15 159.74,292.01 162.03,292.90 164.31,293.82 166.60,294.77 168.89,295.75 171.18,296.75 173.47,297.78 175.76,298.83 178.05,299.90 180.34,300.99 182.62,302.10 184.91,303.26 187.20,304.45 189.49,305.67 191.78,306.91 194.07,308.15 196.36,309.38 198.64,310.60 200.93,311.80 203.22,313.00 205.51,314.21 207.80,315.41 210.09,316.61 212.38,317.79 214.67,318.96 216.95,320.11 219.24,321.24 221.53,322.33 223.82,323.41 226.11,324.47 228.40,325.51 230.69,326.54 232.98,327.56 235.26,328.57 237.55,329.58 239.84,330.58 242.13,331.56 244.42,332.53 246.71,333.50 249.00,334.45 251.29,335.41 253.57,336.36 255.86,337.32 258.15,338.29 260.44,339.29 262.73,340.33 265.02,341.37 267.31,342.41 269.59,343.43 271.88,344.40 274.17,345.30 276.46,346.12 278.75,346.87 281.04,347.58 283.33,348.25 285.62,348.89 287.90,349.50 290.19,350.08 292.48,350.63 294.77,351.16 297.06,351.66 299.35,352.18 301.64,352.69 303.93,353.20 306.21,353.67 308.50,354.10 310.79,354.47 313.08,354.76 315.37,354.95 317.66,355.09 319.95,355.22 322.24,355.34 324.52,355.46 326.81,355.55 329.10,355.64 331.39,355.71 333.68,355.76 335.97,355.79 338.26,355.80" fill="none" stroke="#000000" stroke-width="1.4" stroke-dasharray="3.85 1.66"/>
<polyline points="65.90,317.20 68.19,317.21 70.48,317.22 72.77,317.25 75.05,317.28 77.34,317.32 79.63,317.37 81.92,317.42 84.21,317.48 86.50,317.54 88.79,317.63 91.08,317.75 93.36,317.89 95.65,318.05 97.94,318.23 100.23,318.42 102.52,318.63 104.81,318.86 107.10,319.14 109.39,319.48 111.67,319.88 113.96,320.31 116.25,320.77 118.54,321.25 120.83,321.72 123.12,322.19 125.41,322.64 127.70,323.09 129.98,323.54 132.27,324.01 134.56,324.49 136.85,325.00 139.14,325.53 141.43,326.09 143.72,326.70 146.00,327.36 148.29,328.08 150.58,328.84 152.87,329.63 155.16,330.44 157.45,331.26 159.74,332.08 162.03,332.88 164.31,333.67 166.60,334.47 168.89,335.27 171.18,336.09 173.47,336.91 175.76,337.74 178.05,338.59 180.34,339.45 182.62,340.34 184.91,341.24 187.20,342.16 189.49,343.10 191.78,344.05 194.07,345.01 196.36,345.96 198.64,346.92 200.93,347.87 203.22,348.82 205.51,349.77 207.80,350.73 210.09,351.69 212.38,352.65 214.67,353.61 216.95,354.58 219.24,355.56 221.53,356.55 223.82,357.56 226.11,358.58 228.40,359.60 230.69,360.62 232.98,361.62 235.26,362.60 237.55,363.56 239.84,364.48 242.13,365.38 244.42,366.26 246.71,367.13 249.00,367.98 251.29,368.82 253.57,369.65 255.86,370.46 258.15,371.26 260.44,372.05 262.73,372.83 265.02,373.61 267.31,374.37 269.59,375.11 271.88,375.84 274.17,376.54 276.46,377.23 278.75,377.89 281.04,378.54 283.33,379.17 285.62,379.79 287.90,380.39 290.19,380.97 292.48,381.54 294.77,382.10 297.06,382.64 299.35,383.20 301.64,383.78 303.93,384.35 306.21,384.89 308.50,385.39 310.79,385.83 313.08,386.18 315.37,386.44 317.66,386.64 319.95,386.83 322.24,387.01 324.52,387.18 326.81,387.32 329.10,387.45 331.39,387.56 333.68,387.63 335.97,387.68 338.26,387.70" fill="none" stroke="#1f77b4" stroke-width="2.35"/>
</g>
<rect x="65.9" y="249.8" width="272.79999999999995" height="155.8" fill="none" stroke="#000" stroke-width="0.9"/>
<line x1="63.7" y1="249.70" x2="65.9" y2="249.70" stroke="#000" stroke-width="0.7"/>
<text transform="translate(62.00 253.98) scale(1 1.1)" font-size="10.65" text-anchor="end">−35</text>
<line x1="63.7" y1="283.60" x2="65.9" y2="283.60" stroke="#000" stroke-width="0.7"/>
<text transform="translate(62.00 287.88) scale(1 1.1)" font-size="10.65" text-anchor="end">−40</text>
<line x1="63.7" y1="317.50" x2="65.9" y2="317.50" stroke="#000" stroke-width="0.7"/>
<text transform="translate(62.00 321.78) scale(1 1.1)" font-size="10.65" text-anchor="end">−45</text>
<line x1="63.7" y1="351.40" x2="65.9" y2="351.40" stroke="#000" stroke-width="0.7"/>
<text transform="translate(62.00 355.68) scale(1 1.1)" font-size="10.65" text-anchor="end">−50</text>
<line x1="63.7" y1="385.30" x2="65.9" y2="385.30" stroke="#000" stroke-width="0.7"/>
<text transform="translate(62.00 389.58) scale(1 1.1)" font-size="10.65" text-anchor="end">−55</text>
<line x1="65.90" y1="405.6" x2="65.90" y2="407.8" stroke="#000" stroke-width="0.7"/>
<text transform="translate(65.90 419.20) scale(1 1.1)" font-size="10.65" text-anchor="middle">0.0</text>
<line x1="104.26" y1="405.6" x2="104.26" y2="407.8" stroke="#000" stroke-width="0.7"/>
<text transform="translate(104.26 419.20) scale(1 1.1)" font-size="10.65" text-anchor="middle">0.2</text>
<line x1="142.62" y1="405.6" x2="142.62" y2="407.8" stroke="#000" stroke-width="0.7"/>
<text transform="translate(142.62 419.20) scale(1 1.1)" font-size="10.65" text-anchor="middle">0.4</text>
<line x1="180.98" y1="405.6" x2="180.98" y2="407.8" stroke="#000" stroke-width="0.7"/>
<text transform="translate(180.98 419.20) scale(1 1.1)" font-size="10.65" text-anchor="middle">0.6</text>
<line x1="219.34" y1="405.6" x2="219.34" y2="407.8" stroke="#000" stroke-width="0.7"/>
<text transform="translate(219.34 419.20) scale(1 1.1)" font-size="10.65" text-anchor="middle">0.8</text>
<line x1="257.70" y1="405.6" x2="257.70" y2="407.8" stroke="#000" stroke-width="0.7"/>
<text transform="translate(257.70 419.20) scale(1 1.1)" font-size="10.65" text-anchor="middle">1.0</text>
<line x1="296.06" y1="405.6" x2="296.06" y2="407.8" stroke="#000" stroke-width="0.7"/>
<text transform="translate(296.06 419.20) scale(1 1.1)" font-size="10.65" text-anchor="middle">1.2</text>
<line x1="334.42" y1="405.6" x2="334.42" y2="407.8" stroke="#000" stroke-width="0.7"/>
<text transform="translate(334.42 419.20) scale(1 1.1)" font-size="10.65" text-anchor="middle">1.4</text>
<text transform="translate(202.30 435.60) scale(1 1.1)" font-size="11.7" text-anchor="middle">shift (<tspan font-style="italic">Å</tspan>)</text>
<text transform="translate(34.70 327.50) scale(1 1.165) rotate(-90)" font-size="11.7" text-anchor="middle"><tspan font-style="italic">β</tspan> (meV)</text>
<text transform="translate(67.60 402.70) scale(1 1.19)" font-size="10.8">AA</text>
<text transform="translate(339.30 402.60) scale(1 1.19)" font-size="10.8" text-anchor="end">AB</text>
<line x1="196.6" y1="263.8" x2="216.0" y2="263.8" stroke="#e687c9" stroke-width="1.32" stroke-dasharray="3.85 1.66"/>
<text transform="translate(224.10 267.31) scale(1 1.1)" font-size="9.85">n = 5</text>
<line x1="196.6" y1="275.6" x2="216.0" y2="275.6" stroke="#1f77b4" stroke-width="2.59" stroke-linecap="square"/>
<text transform="translate(224.10 279.11) scale(1 1.1)" font-size="9.85">n = 6</text>
<line x1="196.6" y1="287.3" x2="216.0" y2="287.3" stroke="#45ab45" stroke-width="1.32" stroke-dasharray="1.1 1.92"/>
<text transform="translate(224.10 290.81) scale(1 1.1)" font-size="9.85">n = 7</text>
<line x1="196.6" y1="298.9" x2="216.0" y2="298.9" stroke="#db4142" stroke-width="1.32" stroke-dasharray="7.0 1.75 1.05 1.75"/>
<text transform="translate(224.10 302.40) scale(1 1.1)" font-size="9.85">n = 8</text>
<line x1="270.2" y1="263.8" x2="289.6" y2="263.8" stroke="#a179c5" stroke-width="1.32" stroke-dasharray="3.85 1.66"/>
<text transform="translate(297.40 267.31) scale(1 1.1)" font-size="9.85">n = 9</text>
<line x1="270.2" y1="275.6" x2="289.6" y2="275.6" stroke="#ff8e2b" stroke-width="1.32" stroke-dasharray="1.1 1.92"/>
<text transform="translate(297.40 279.11) scale(1 1.1)" font-size="9.85">n = 10</text>
<line x1="270.2" y1="287.3" x2="289.6" y2="287.3" stroke="#000000" stroke-width="1.54" stroke-dasharray="3.85 1.66"/>
<text transform="translate(297.40 290.81) scale(1 1.1)" font-size="9.85">BLG</text>
<text transform="translate(-0.20 452.70) scale(1 1.22)" font-size="11.5">(c)</text>
<rect x="65.9" y="452.6" width="272.6" height="78.10000000000002" fill="none" stroke="#000" stroke-width="0.9"/>
<line x1="65.9" y1="473.17" x2="338.5" y2="473.17" stroke="#000" stroke-width="1.5" stroke-dasharray="3.85 1.66"/>
<line x1="63.7" y1="531.00" x2="65.9" y2="531.00" stroke="#000" stroke-width="0.7"/>
<text transform="translate(62.00 535.28) scale(1 1.1)" font-size="10.65" text-anchor="end">8</text>
<line x1="63.7" y1="499.95" x2="65.9" y2="499.95" stroke="#000" stroke-width="0.7"/>
<text transform="translate(62.00 504.23) scale(1 1.1)" font-size="10.65" text-anchor="end">10</text>
<line x1="63.7" y1="468.90" x2="65.9" y2="468.90" stroke="#000" stroke-width="0.7"/>
<text transform="translate(62.00 473.18) scale(1 1.1)" font-size="10.65" text-anchor="end">12</text>
<line x1="73.60" y1="530.7" x2="73.60" y2="532.9000000000001" stroke="#000" stroke-width="0.7"/>
<text transform="translate(73.60 544.50) scale(1 1.19)" font-size="10.65" text-anchor="middle">4</text>
<line x1="110.46" y1="530.7" x2="110.46" y2="532.9000000000001" stroke="#000" stroke-width="0.7"/>
<text transform="translate(110.46 544.50) scale(1 1.19)" font-size="10.65" text-anchor="middle">5</text>
<line x1="147.32" y1="530.7" x2="147.32" y2="532.9000000000001" stroke="#000" stroke-width="0.7"/>
<text transform="translate(147.32 544.50) scale(1 1.19)" font-size="10.65" text-anchor="middle">6</text>
<line x1="184.18" y1="530.7" x2="184.18" y2="532.9000000000001" stroke="#000" stroke-width="0.7"/>
<text transform="translate(184.18 544.50) scale(1 1.19)" font-size="10.65" text-anchor="middle">7</text>
<line x1="221.04" y1="530.7" x2="221.04" y2="532.9000000000001" stroke="#000" stroke-width="0.7"/>
<text transform="translate(221.04 544.50) scale(1 1.19)" font-size="10.65" text-anchor="middle">8</text>
<line x1="257.90" y1="530.7" x2="257.90" y2="532.9000000000001" stroke="#000" stroke-width="0.7"/>
<text transform="translate(257.90 544.50) scale(1 1.19)" font-size="10.65" text-anchor="middle">9</text>
<line x1="294.76" y1="530.7" x2="294.76" y2="532.9000000000001" stroke="#000" stroke-width="0.7"/>
<text transform="translate(294.76 544.50) scale(1 1.19)" font-size="10.65" text-anchor="middle">10</text>
<line x1="331.62" y1="530.7" x2="331.62" y2="532.9000000000001" stroke="#000" stroke-width="0.7"/>
<text transform="translate(331.62 544.50) scale(1 1.19)" font-size="10.65" text-anchor="middle">11</text>
<rect x="108.00" y="511.85" width="4.4" height="4.9" fill="#000"/>
<rect x="144.60" y="489.95" width="4.4" height="4.9" fill="#000"/>
<rect x="181.70" y="491.85" width="4.4" height="4.9" fill="#000"/>
<rect x="218.70" y="495.80" width="4.4" height="4.9" fill="#000"/>
<rect x="255.30" y="484.95" width="4.4" height="4.9" fill="#000"/>
<rect x="292.30" y="485.85" width="4.4" height="4.9" fill="#000"/>
<text transform="translate(201.80 557.70) scale(1 1.1)" font-size="11.7" text-anchor="middle">AGNR width, <tspan font-style="italic">n</tspan></text>
<text transform="translate(32.90 491.90) scale(1 1.165) rotate(-90)" font-size="11.5" text-anchor="middle"><tspan font-style="italic">β</tspan><tspan font-size="7.8" dy="2.2">AA</tspan><tspan dy="-2.2"> - β</tspan><tspan font-size="7.8" dy="2.2">AB</tspan><tspan dy="-2.2"> (meV)</tspan></text>
<line x1="283.2" y1="515" x2="302.4" y2="515" stroke="#000" stroke-width="1.5" stroke-dasharray="3.85 1.66"/>
<text transform="translate(310.00 518.50) scale(1 1.1)" font-size="9.85">BLG</text>
</svg>
</body></html>
